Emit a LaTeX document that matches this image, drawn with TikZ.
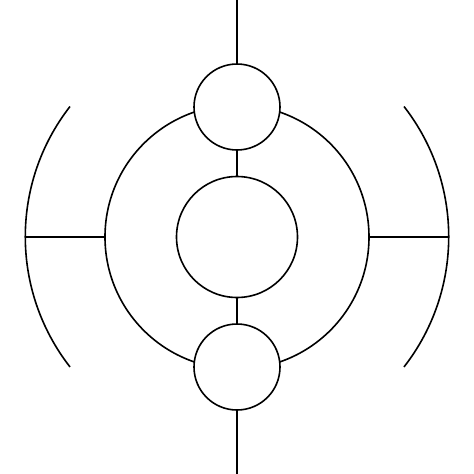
\documentclass[tikz,border=0pt]{standalone}
\begin{document}
\begin{tikzpicture}[x=1pt,y=-1pt,
  ln/.style={line width=1.6pt,black},
  circ/.style={circle,draw,line width=1.6pt,fill=white,inner sep=0pt}]
\useasboundingbox (0,0) rectangle (474,474);
\node[circ,minimum size=264pt] (big) at (237,237) {};
\node[circ,minimum size=121pt] (inner) at (237,237) {};
\node[circ,minimum size=86pt] (top) at (237,107) {};
\node[circ,minimum size=86pt] (bot) at (237,367) {};
\coordinate (tend) at (237,0);
\coordinate (bend) at (237,474);
\coordinate (lend) at (25,237);
\coordinate (rend) at (449,237);
\coordinate (la) at (70,106.5);
\coordinate (ra) at (404,106.5);
\draw[ln] (tend) -- (top.north);
\draw[ln] (top.south) -- (inner.north);
\draw[ln] (inner.south) -- (bot.north);
\draw[ln] (bot.south) -- (bend);
\draw[ln] (lend) -- (big.west);
\draw[ln] (big.east) -- (rend);
\draw[ln] (la) arc[start angle=142.1, end angle=217.9, radius=212pt];
\draw[ln] (ra) arc[start angle=37.9, end angle=-37.9, radius=212pt];
\end{tikzpicture}
\end{document}
